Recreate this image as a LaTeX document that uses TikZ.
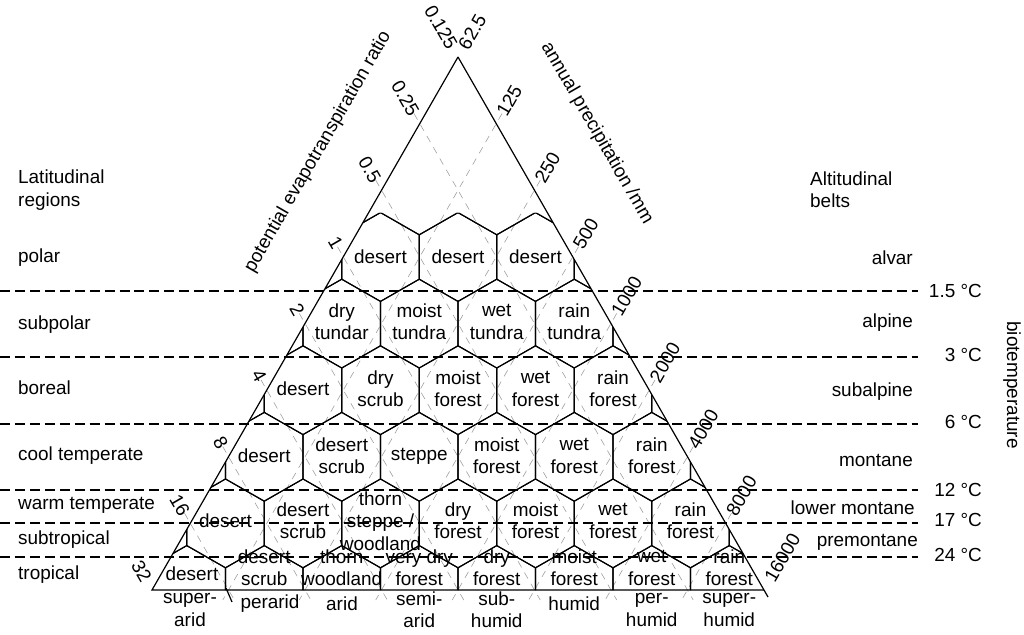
\documentclass[tikz,border=0pt]{standalone}
\usepackage{fontspec}
\setmainfont{Liberation Sans}
\begin{document}
\begin{tikzpicture}[x=1bp,y=-1bp,
  lab/.style={align=center,inner sep=0pt,font=\fontsize{19}{22.5}\selectfont},
  txt/.style={inner sep=0pt,font=\fontsize{19}{22.5}\selectfont},
  zoneline/.style={line width=1.4pt,dash pattern=on 10pt off 5pt},
  guide/.style={gray!75,line width=0.6pt,dash pattern=on 7pt off 6pt},
  hexline/.style={line width=1.1pt}]
\useasboundingbox (0,0) rectangle (1024,635);
% guide lines
\foreach \k in {1,...,7}{
  \pgfmathsetmacro{\lx}{458-38.25*\k}
  \pgfmathsetmacro{\ly}{57+66.6*\k}
  \pgfmathsetmacro{\bx}{\lx+0.574*(533-66.6*\k)}
  \draw[guide] ({\lx-0.574*10},{\ly-10}) -- ({\bx+0.574*10},600);
  \draw[guide] ({916-\lx+0.574*10},{\ly-10}) -- ({916-\bx-0.574*10},600);
}
% hexagons
\begin{scope}
\clip (368.5,213) -- (547.5,213) -- (764,590) -- (152,590) -- cycle;
\foreach \i in {0,...,6}{
  \foreach \j in {-6,...,6}{
    \pgfmathsetmacro{\cx}{458+77.5*(\j+0.5*mod(\i+1,2))}
    \pgfmathsetmacro{\cy}{257+66.6*(\i-1)}
    \draw[hexline] (\cx,\cy-44.4) -- (\cx+38.75,\cy-22.2) -- (\cx+38.75,\cy+22.2)
      -- (\cx,\cy+44.4) -- (\cx-38.75,\cy+22.2) -- (\cx-38.75,\cy-22.2) -- cycle;
  }
}
\end{scope}
% triangle
\draw[line width=1.2pt] (458,57) -- (152,590) -- (764,590);
\draw[line width=1.2pt] (458,57) -- (768,597);
\draw[line width=1.2pt] (226,588) -- (232,602);
% zone lines
\foreach \y in {291,357,424,490,523,557}{\draw[zoneline] (0,\y) -- (918,\y);}
% side tick labels
\foreach \t [count=\k from 0] in {0.125,0.25,0.5,1,2,4,8,16,32}{
  \node[txt,rotate=-60,anchor=east] at ({458-38.25*\k-5},{57+66.6*\k-9}) {\t};
}
\foreach \t [count=\k from 0] in {62.5,125,250,500,1000,2000,4000,8000,16000}{
  \node[txt,rotate=60,anchor=west] at ({458+38.25*\k+5},{57+66.6*\k-9}) {\t};
}
\node[txt,rotate=60] at (318,152) {potential evapotranspiration ratio};
\node[txt,rotate=-60] at (597,133) {annual precipitation /mm};
% hex labels
\foreach \t [count=\c from -1] in {desert,desert,desert}{\node[lab] at ({458+77.5*\c},257) {\t};}
\foreach \t [count=\c from 0] in {{dry\\tundar},{moist\\tundra},{wet\\tundra},{rain\\tundra}}{\node[lab] at ({458+77.5*(\c-1.5)},322) {\t};}
\foreach \t [count=\c from -2] in {desert,{dry\\scrub},{moist\\forest},{wet\\forest},{rain\\forest}}{\node[lab] at ({458+77.5*\c},389) {\t};}
\foreach \t [count=\c from 0] in {desert,{desert\\scrub},steppe,{moist\\forest},{wet\\forest},{rain\\forest}}{\node[lab] at ({458+77.5*(\c-2.5)},456) {\t};}
\foreach \t [count=\c from -3] in {desert,{desert\\scrub},{thorn\\steppe /\\woodland},{dry\\forest},{moist\\forest},{wet\\forest},{rain\\forest}}{\node[lab] at ({458+77.5*\c},521) {\t};}
\node[lab] at (192,574) {desert};
\foreach \t [count=\c from 1] in {{desert\\scrub},{thorn\\woodland},{very dry\\forest},{dry\\forest},{moist\\forest},{wet\\forest},{rain\\forest}}{\node[lab] at ({458+77.5*(\c-3.5)},568) {\t};}
% base labels
\node[lab] at (190,610) {super-\\arid};
\node[lab] at (270,604) {perarid};
\node[lab] at (342,604) {arid};
\foreach \t [count=\c from 3] in {{semi-\\arid},{sub-\\humid}}{\node[lab] at ({458+77.5*(\c-3.5)},610) {\t};}
\node[lab] at (574.25,604) {humid};
\foreach \t [count=\c from 6] in {{per-\\humid},{super-\\humid}}{\node[lab] at ({458+77.5*(\c-3.5)},610) {\t};}
% left labels
\node[txt,anchor=west,align=left] at (18,190) {Latitudinal\\regions};
\node[txt,anchor=west] at (18,258) {polar};
\node[txt,anchor=west] at (18,325) {subpolar};
\node[txt,anchor=west] at (18,388) {boreal};
\node[txt,anchor=west] at (18,456) {cool temperate};
\node[txt,anchor=west] at (18,505) {warm temperate};
\node[txt,anchor=west] at (18,540) {subtropical};
\node[txt,anchor=west] at (18,575) {tropical};
% right labels
\node[txt,anchor=west,align=left] at (810,190) {Altitudinal\\belts};
\node[txt,anchor=east] at (913,258) {alvar};
\node[txt,anchor=east] at (913,323) {alpine};
\node[txt,anchor=east] at (913,392) {subalpine};
\node[txt,anchor=east] at (913,460) {montane};
\node[txt,anchor=east] at (915,508) {lower montane};
\node[txt,anchor=east] at (918,542) {premontane};
\node[txt,anchor=east] at (982,291) {1.5 °C};
\node[txt,anchor=east] at (982,355) {3 °C};
\node[txt,anchor=east] at (982,422) {6 °C};
\node[txt,anchor=east] at (982,490) {12 °C};
\node[txt,anchor=east] at (982,520) {17 °C};
\node[txt,anchor=east] at (982,555) {24 °C};
\node[txt,rotate=-90] at (1012,385) {biotemperature};
\end{tikzpicture}
\end{document}
